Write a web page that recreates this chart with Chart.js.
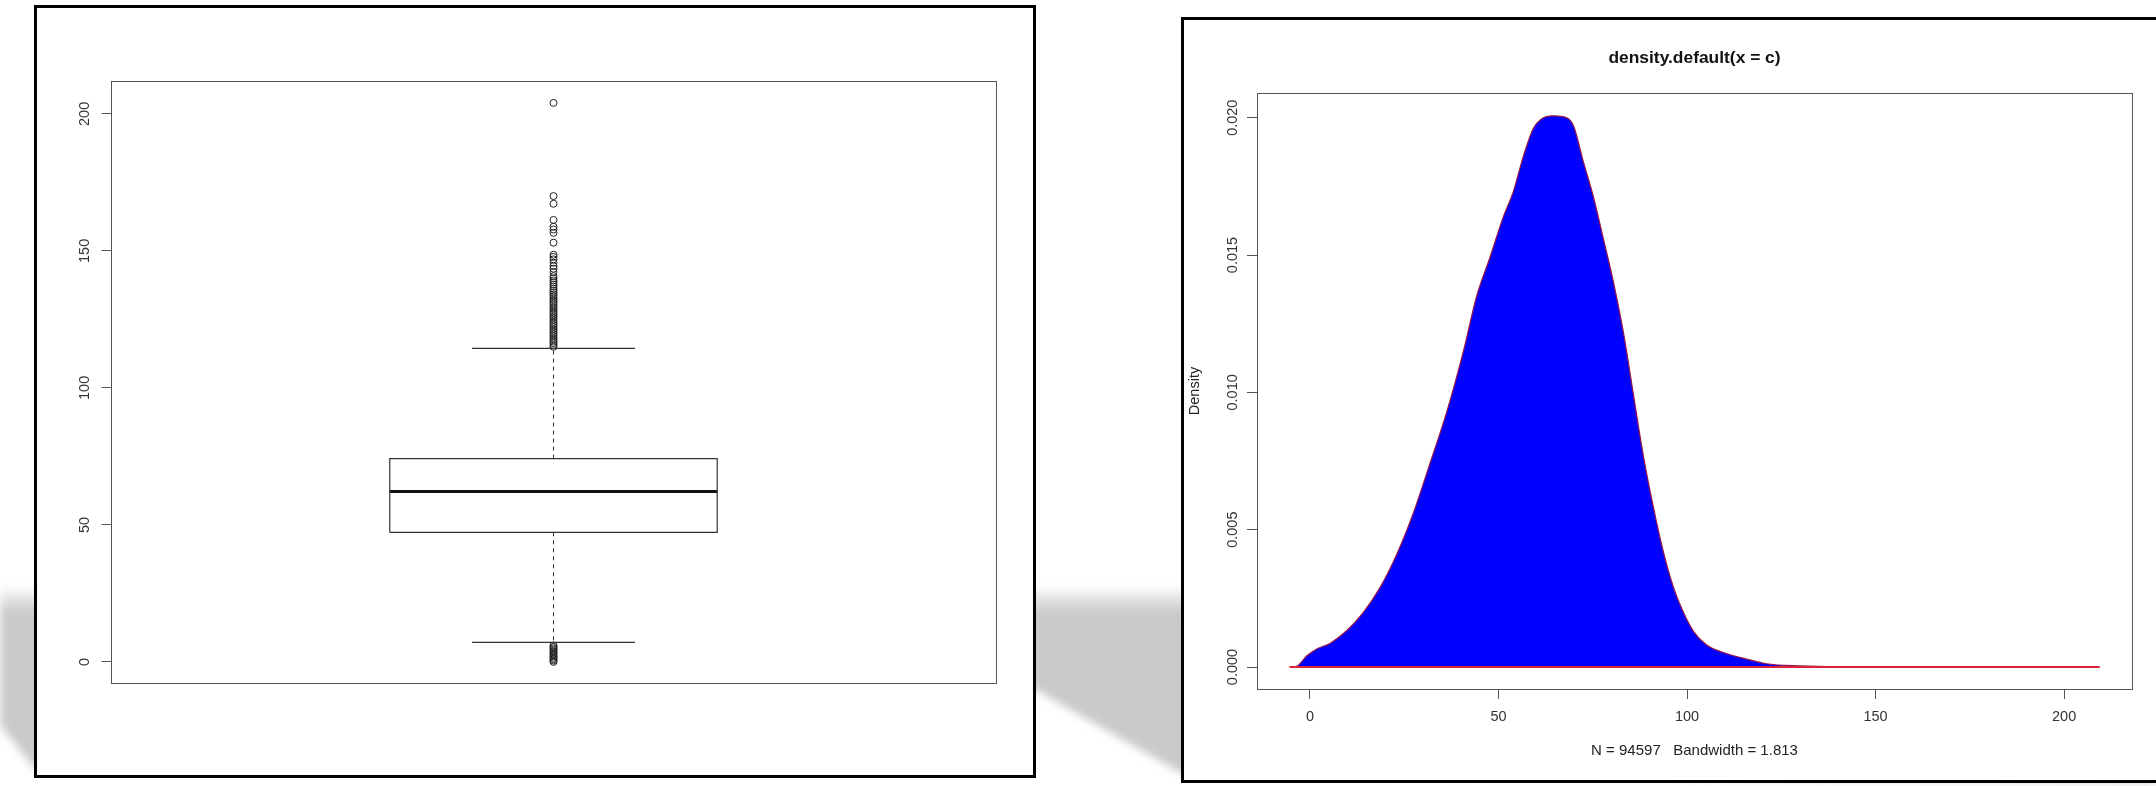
<!DOCTYPE html>
<html>
<head>
<meta charset="utf-8">
<script src="https://cdn.jsdelivr.net/npm/chart.js@4.4.1/dist/chart.umd.min.js"></script>
<style>
  html, body { margin:0; padding:0; background:#fff; width:2156px; height:786px; overflow:hidden; }
  #shadowWrap { position:absolute; left:0; top:0; width:2156px; height:786px; filter:blur(4px); }
  #shadow { position:absolute; left:0; top:0; width:2156px; height:786px;
    background:linear-gradient(to bottom, rgba(202,202,202,0) 586px, #cacaca 612px);
    clip-path: polygon(0px 560px, 2156px 560px, 2156px 783px, 1181px 773px, 1036px 690px, 1000px 690px, 34px 768px, 0px 725px); }
  .frame { position:absolute; box-sizing:border-box; border:3px solid #000; background:#fff; }
  #frameL { left:34px; top:5px; width:1002px; height:773px; }
  #frameR { left:1181px; top:17px; width:1000px; height:766px; }
  .box { position:absolute; }
  #boxL { left:37px; top:8px; width:996px; height:767px; }
  #boxR { left:1184px; top:20px; width:972px; height:760px; }
</style>
</head>
<body>
<div id="shadowWrap"><div id="shadow"></div></div>
<div class="frame" id="frameL"></div>
<div class="frame" id="frameR"></div>
<div class="box" id="boxL"><canvas id="cL"></canvas></div>
<div class="box" id="boxR"><canvas id="cR"></canvas></div>
<script>
// ---------- Boxplot data ----------
const boxCategories = ['c'];
const whiskerLow = [7.1];
const quartile1 = [47.3];
const medianVals = [62.2];
const quartile3 = [74.2];
const whiskerHigh = [114.4];
const upperOutliers = [204, 170, 167.2, 161.3, 158.8, 157.8, 156.6, 153, 148.6, 147.8, 146.9, 145.7, 144.4, 143.5, 142.3, 140.8, 140, 139.2, 138.5, 137.7, 137, 136.2, 135.5, 134.8, 134.1, 133.5, 132.8, 132.1, 131.5, 130.8, 130.1, 129.4, 128.8, 128.1, 127.5, 126.8, 126.1, 125.5, 124.8, 124.1, 123.5, 122.8, 122.2, 121.5, 120.9, 120.2, 119.5, 118.9, 118.2, 117.6, 116.9, 116.3, 115.6, 115];
const lowerOutliers = [0, 0.5, 1, 1.5, 2, 2.5, 3, 3.5, 4, 4.5, 5, 5.5, 6];
const boxYTicks = [0, 50, 100, 150, 200];
const boxYTickLabels = ['0', '50', '100', '150', '200'];

// ---------- Density data ----------
const densX = [-5.4, -3.5, -0.9, 1.8, 5.3, 9.7, 14.1, 18.6, 23.0, 27.4, 31.8, 36.3, 40.7, 44.2, 47.7, 51.3, 53.9, 56.6, 59.2, 61.9, 64.5, 68.1, 69.9, 72.5, 75.2, 77.8, 80.5, 83.1, 85.8, 88.4, 91.1, 93.7, 96.4, 99.0, 101.7, 105.2, 109.6, 116.7, 121, 130, 140, 160, 180, 209.4];
const densY = [0, 0.00003, 0.0004, 0.00066, 0.00086, 0.00132, 0.00198, 0.0029, 0.0041, 0.0056, 0.0074, 0.0093, 0.0115, 0.0135, 0.0149, 0.0164, 0.0173, 0.0186, 0.0196, 0.0200, 0.02007, 0.0200, 0.0197, 0.0184, 0.0171, 0.0156, 0.0140, 0.0122, 0.0099, 0.0077, 0.0058, 0.0042, 0.0029, 0.0020, 0.0013, 0.0008, 0.00053, 0.00026, 0.00012, 0.00004, 0.00001, 0.000003, 0.000001, 0];
const densXTicks = [0, 50, 100, 150, 200];
const densXTickLabels = ['0', '50', '100', '150', '200'];
const densYTicks = [0, 0.005, 0.010, 0.015, 0.020];
const densYTickLabels = ['0.000', '0.005', '0.010', '0.015', '0.020'];
const densTitle = 'density.default(x = c)';
const densXLabel = 'N = 94597   Bandwidth = 1.813';
const densYLabel = 'Density';

Chart.defaults.font.family = "'Liberation Sans', Arial, Helvetica, sans-serif";
Chart.defaults.animation = false;

const frameBox = {
  id: 'frameBox',
  afterDraw(chart, args, opts) {
    const {ctx, chartArea: {left, top, right, bottom}} = chart;
    ctx.save();
    ctx.strokeStyle = opts.color || '#555';
    ctx.lineWidth = 1;
    ctx.strokeRect(Math.round(left) + 0.5, Math.round(top) + 0.5, Math.round(right - left), Math.round(bottom - top));
    ctx.restore();
  }
};

// ---------- Left: boxplot ----------
const boxHalf = 0.185, stapleHalf = 0.092;
const lineDs = (pts, extra) => Object.assign({
  data: pts, showLine: true, pointRadius: 0, borderColor: '#333', borderWidth: 1.2,
  fill: false, borderJoinStyle: 'miter', borderCapStyle: 'butt'
}, extra || {});

const leftDatasets = [];
boxCategories.forEach((cat, i) => {
  const cx = i + 1;
  leftDatasets.push(lineDs([
    {x: cx - boxHalf, y: quartile1[i]}, {x: cx + boxHalf, y: quartile1[i]},
    {x: cx + boxHalf, y: quartile3[i]}, {x: cx - boxHalf, y: quartile3[i]},
    {x: cx - boxHalf, y: quartile1[i]}
  ]));
  leftDatasets.push(lineDs([{x: cx - boxHalf, y: medianVals[i]}, {x: cx + boxHalf, y: medianVals[i]}], {borderColor: '#111', borderWidth: 3}));
  leftDatasets.push(lineDs([{x: cx, y: quartile3[i]}, {x: cx, y: whiskerHigh[i]}], {borderDash: [4, 4], borderWidth: 1}));
  leftDatasets.push(lineDs([{x: cx, y: quartile1[i]}, {x: cx, y: whiskerLow[i]}], {borderDash: [4, 4], borderWidth: 1}));
  leftDatasets.push(lineDs([{x: cx - stapleHalf, y: whiskerHigh[i]}, {x: cx + stapleHalf, y: whiskerHigh[i]}]));
  leftDatasets.push(lineDs([{x: cx - stapleHalf, y: whiskerLow[i]}, {x: cx + stapleHalf, y: whiskerLow[i]}]));
  leftDatasets.push({
    data: upperOutliers.concat(lowerOutliers).map(v => ({x: cx, y: v})),
    showLine: false, pointStyle: 'circle', pointRadius: 3.5,
    pointBackgroundColor: 'rgba(0,0,0,0)', pointBorderColor: '#222', pointBorderWidth: 1
  });
});

new Chart(document.getElementById('cL'), {
  type: 'scatter',
  data: { datasets: leftDatasets },
  options: {
    responsive: true, maintainAspectRatio: false,
    layout: { padding: { left: 0, top: 73, right: 37, bottom: 92 } },
    plugins: { legend: { display: false }, tooltip: { enabled: false }, frameBox: { color: '#555' } },
    scales: {
      x: { type: 'linear', display: false, min: 0.5, max: 1.5 },
      y: {
        type: 'linear', min: -7.7, max: 212,
        afterFit: s => { s.width = 74; },
        afterBuildTicks: s => { s.ticks = boxYTicks.map(v => ({value: v})); },
        grid: { display: true, drawOnChartArea: false, drawTicks: true, tickLength: 9.5, tickColor: '#555', tickWidth: 1 },
        border: { display: true, color: '#555', width: 1 },
        ticks: {
          autoSkip: false, minRotation: 90, maxRotation: 90, crossAlign: 'center', padding: 4.9,
          color: '#333', font: { size: 14.5 },
          callback: (v, idx) => boxYTickLabels[idx]
        }
      }
    }
  },
  plugins: [frameBox]
});

// ---------- Right: density ----------
new Chart(document.getElementById('cR'), {
  type: 'line',
  data: {
    datasets: [
      {
        data: [{x: densX[0], y: 0}, {x: densX[densX.length - 1], y: 0}],
        borderColor: 'rgb(215,35,60)', borderWidth: 2, pointRadius: 0, fill: false, order: 0
      },
      {
        data: densX.map((x, i) => ({x: x, y: densY[i]})),
        borderColor: 'rgb(150,20,70)', borderWidth: 1.2, backgroundColor: '#0000ff',
        fill: 'origin', pointRadius: 0, cubicInterpolationMode: 'monotone', order: 1
      }
    ]
  },
  options: {
    responsive: true, maintainAspectRatio: false,
    layout: { padding: { left: 0, top: 0, right: 24, bottom: 0 } },
    plugins: {
      legend: { display: false }, tooltip: { enabled: false }, frameBox: { color: '#555' },
      title: {
        display: true, text: densTitle, fullSize: false, color: '#111',
        font: { size: 17.4, weight: 'bold' }, padding: { top: 27.56, bottom: 24.56 }
      }
    },
    scales: {
      x: {
        type: 'linear', min: -14.05, max: 218.0,
        afterFit: s => { s.height = 91; },
        afterBuildTicks: s => { s.ticks = densXTicks.map(v => ({value: v})); },
        grid: { display: true, drawOnChartArea: false, drawTicks: true, tickLength: 10, tickColor: '#555' },
        border: { display: true, color: '#555', width: 1 },
        ticks: { autoSkip: false, maxRotation: 0, padding: 9.3, color: '#333', font: { size: 14.5 },
          callback: (v, idx) => densXTickLabels[idx] },
        title: { display: true, text: densXLabel, color: '#222', font: { size: 15 }, padding: { top: 0, bottom: 20 } }
      },
      y: {
        type: 'linear', min: -0.0008, max: 0.0209,
        afterFit: s => { s.width = 73; },
        afterBuildTicks: s => { s.ticks = densYTicks.map(v => ({value: v})); },
        grid: { display: true, drawOnChartArea: false, drawTicks: true, tickLength: 10, tickColor: '#555' },
        border: { display: true, color: '#555', width: 1 },
        ticks: { autoSkip: false, minRotation: 90, maxRotation: 90, crossAlign: 'center', padding: -4.1,
          color: '#333', font: { size: 14.5 }, callback: (v, idx) => densYTickLabels[idx] },
        title: { display: true, text: densYLabel, color: '#222', font: { size: 14.5 }, padding: { top: 1.8, bottom: 0 } }
      }
    }
  },
  plugins: [frameBox]
});
</script>
</body>
</html>
